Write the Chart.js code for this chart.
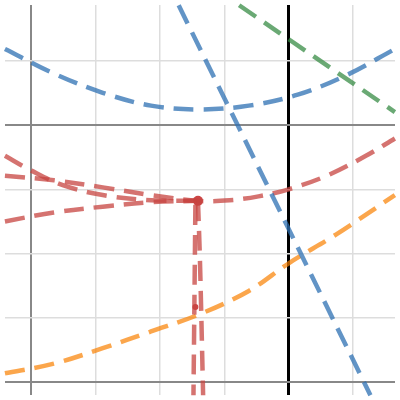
<!DOCTYPE html>
<html><head><script src="https://cdn.jsdelivr.net/npm/chart.js@4"></script>
<style>html,body{margin:0;padding:0;background:#fff}#w{width:400px;height:400px}</style></head>
<body><div id="w"><canvas id="c"></canvas></div>
<script>
const blueCurveX=[-4.41,-3.65,-2.89,-2.14,-1.38,-0.62,0.14,0.89,1.65];
const blueCurveY=[1.18,0.80,0.50,0.30,0.24,0.30,0.47,0.77,1.18];
const blueLineX=[-1.71,1.27], blueLineY=[1.86,-4.20];
const greenX=[-0.77,1.65], greenY=[1.86,0.20];
const redAX=[-4.41,-4.0,-3.5,-2.89,-2.14,-1.41], redAY=[-0.48,-0.71,-0.94,-1.09,-1.17,-1.18];
const redBX=[-4.41,-3.65,-2.89,-2.14,-1.41,-0.92,-0.47,0,0.59,1.20,1.65];
const redBY=[-0.79,-0.86,-0.97,-1.09,-1.18,-1.17,-1.11,-1.0,-0.79,-0.48,-0.21];
const redCX=[-4.41,-3.65,-2.89,-2.14,-1.41], redCY=[-1.50,-1.36,-1.27,-1.20,-1.18];
const redV1X=[-1.41,-1.38,-1.33], redV1Y=[-1.18,-2.08,-4.20];
const redV2X=[-1.45,-1.48], redV2Y=[-1.24,-4.20];
const dotX=[-1.41,-1.45], dotY=[-1.18,-2.83], dotR=[5,3];
const orangeX=[-4.41,-3.65,-2.89,-2.14,-1.38,-0.62,0,0.74,1.65];
const orangeY=[-3.86,-3.71,-3.47,-3.21,-2.94,-2.58,-2.15,-1.70,-1.09];
const xTicks=[-4,-3,-2,-1,0,1], yTicks=[-4,-3,-2,-1,0,1];
const pts=(xs,ys)=>xs.map((x,i)=>({x,y:ys[i]}));
const BLUE='rgba(45,112,179,0.75)',RED='rgba(199,68,64,0.75)',GREEN='rgba(56,140,70,0.75)',ORANGE='rgba(250,128,0,0.7)';
const line=(xs,ys,c)=>({data:pts(xs,ys),borderColor:c,borderWidth:4.5,borderDash:[20,10],showLine:true,pointRadius:0,tension:0.35,fill:false,clip:false});
const setTicks=arr=>(s=>{s.ticks=arr.map(v=>({value:v}));});
new Chart(document.getElementById('c'),{type:'scatter',
data:{datasets:[
line(blueCurveX,blueCurveY,BLUE),line(blueLineX,blueLineY,BLUE),line(greenX,greenY,GREEN),
line(redAX,redAY,RED),line(redBX,redBY,RED),line(redCX,redCY,RED),line(redV1X,redV1Y,RED),line(redV2X,redV2Y,RED),
line(orangeX,orangeY,ORANGE),
{data:pts(dotX,dotY),pointRadius:dotR,backgroundColor:'rgba(199,50,50,0.9)',borderWidth:0,showLine:false}
]},
options:{responsive:true,maintainAspectRatio:false,animation:false,layout:{padding:0},
plugins:{legend:{display:false},tooltip:{enabled:false}},
scales:{
x:{type:'linear',min:-4.409,max:1.652,border:{display:false},ticks:{display:false,padding:0},afterBuildTicks:setTicks(xTicks),
grid:{drawTicks:false,tickLength:0,color:c=>c.tick.value===0?'#000':(c.tick.value===-4?'#888':'#ddd'),lineWidth:c=>c.tick.value===0?3:(c.tick.value===-4?2:1.5)}},
y:{type:'linear',min:-4.197,max:1.864,border:{display:false},ticks:{display:false,padding:0},afterBuildTicks:setTicks(yTicks),
grid:{drawTicks:false,tickLength:0,color:c=>(c.tick.value===0||c.tick.value===-4)?'#888':'#ddd',lineWidth:c=>(c.tick.value===0||c.tick.value===-4)?2:1.5}}
}}});
</script></body></html>
